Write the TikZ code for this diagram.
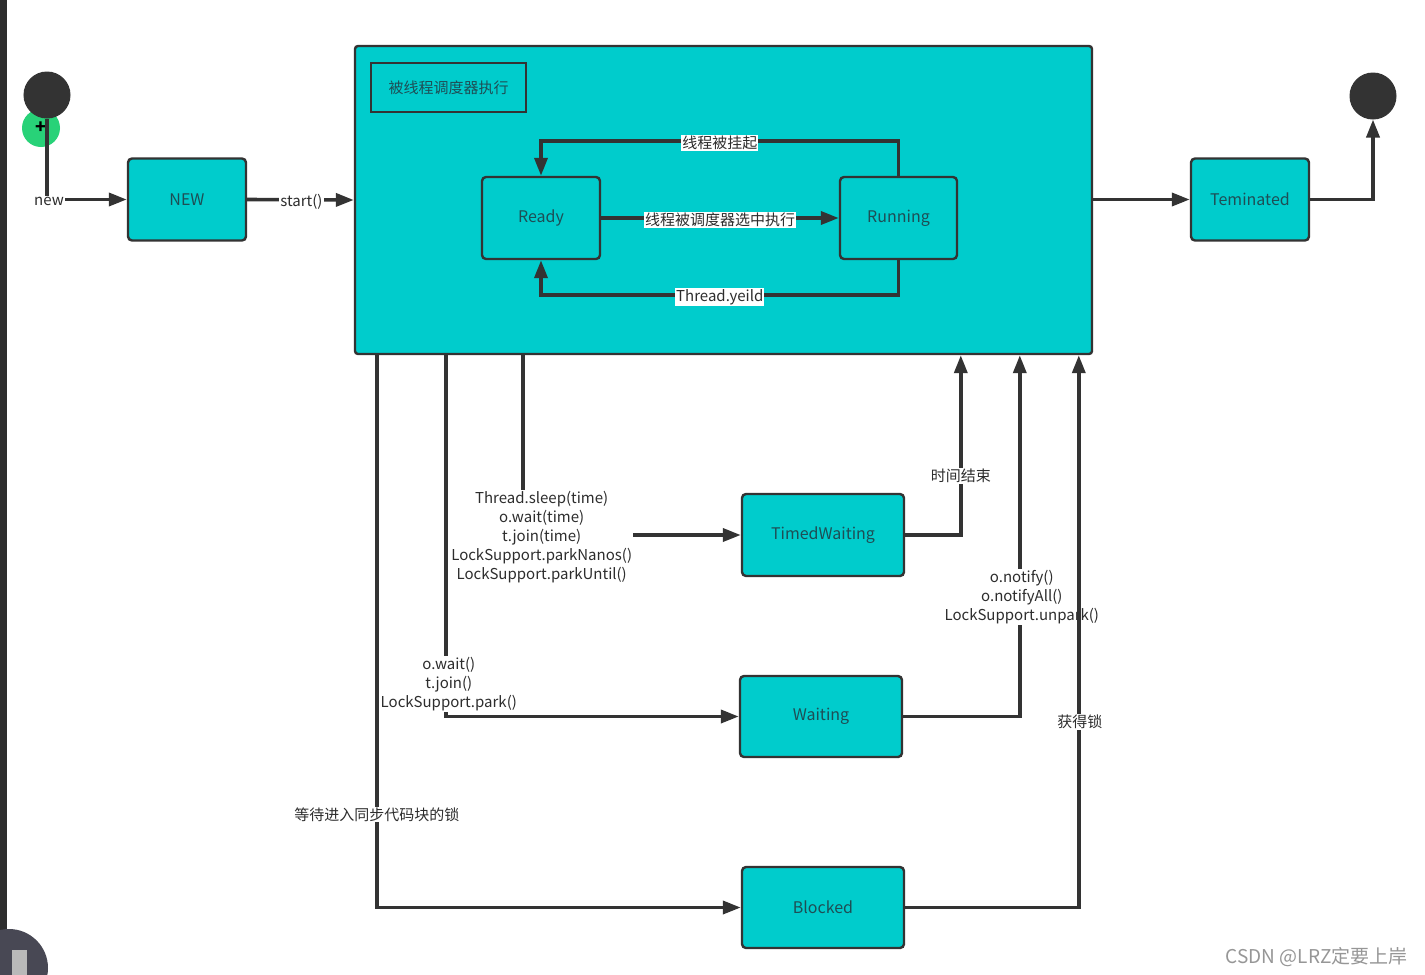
\documentclass[tikz,border=0pt]{standalone}
\usepackage{fontspec}
\setmainfont{Noto Sans CJK SC}
\usetikzlibrary{arrows.meta,calc}
\definecolor{boxfill}{RGB}{0,204,204}
\definecolor{linec}{RGB}{51,51,51}
\definecolor{txtc}{RGB}{30,78,85}
\definecolor{labc}{RGB}{45,45,45}
\definecolor{greenc}{RGB}{40,210,120}
\definecolor{wmc}{RGB}{150,150,150}
\definecolor{cornerc}{RGB}{72,72,84}
\begin{document}
\begin{tikzpicture}[x=1pt,y=-1pt,
  stbox/.style={draw=linec, line width=2.4pt, fill=boxfill, rounded corners=4pt,
    text=txtc, font=\fontsize{16}{19}\selectfont, inner sep=0pt},
  conn/.style={draw=linec, line width=3.6pt, -{Triangle[length=18pt,width=13pt]}},
  lab/.style={fill=white, inner sep=1pt, text=labc, font=\fontsize{15}{19}\selectfont, align=center, yshift=-2pt},
  dot/.style={circle, fill=linec, draw=linec, line width=1pt, minimum size=46pt, inner sep=0pt}]
\useasboundingbox (0,0) rectangle (1425,975);
\fill[white] (0,0) rectangle (1425,975);
% screen artefacts
\fill[black!82] (0,0) rectangle (7,975);
\begin{scope}
\clip (0,0) rectangle (1425,975);
\fill[cornerc] (9,968) circle (39);
\fill[gray!55] (12,950) rectangle (27,975);
\end{scope}
\fill[greenc] (41,128) circle (19);
\node[font=\fontsize{18}{18}\selectfont\bfseries] at (41,128) {+};

% nodes
\node[dot] (start) at (47,95) {};
\node[dot] (endc) at (1373,96) {};
\node[stbox, minimum width=118pt, minimum height=82pt] (new) at (187,199.5) {\raisebox{-1.5pt}{NEW}};
\node[stbox, rounded corners=3pt, minimum width=737pt, minimum height=308pt] (main) at (723.5,200) {};
\node[draw=linec, line width=2.2pt, minimum width=155pt, minimum height=49pt, text=txtc,
  font=\fontsize{15}{19}\selectfont, inner sep=0pt] (sched) at (448.5,87.5) {被线程调度器执行};
\node[stbox, minimum width=118pt, minimum height=82pt] (ready) at (541,218) {\raisebox{-1.5pt}{Ready}};
\node[stbox, minimum width=117pt, minimum height=82pt] (run) at (898.5,218) {\raisebox{-1.5pt}{Running}};
\node[stbox, minimum width=118pt, minimum height=82pt] (term) at (1250,199.5) {\raisebox{-1.5pt}{Teminated}};
\node[stbox, minimum width=162pt, minimum height=82pt] (tw) at (823,535) {\raisebox{-1.5pt}{TimedWaiting}};
\node[stbox, minimum width=162pt, minimum height=81pt] (wait) at (821,716.5) {\raisebox{-1.5pt}{Waiting}};
\node[stbox, minimum width=162pt, minimum height=81pt] (blk) at (823,907.5) {\raisebox{-1.5pt}{Blocked}};

% connectors
\draw[conn] (start.south) |- (new.west) node[lab, pos=0.5, xshift=2pt] {new};
\draw[conn] (new.east) -- (main.west) node[lab, midway, xshift=1pt] {start()};
\draw[conn] (run.north) -- ++(0,-35) coordinate (t1) -- (t1 -| ready.north) node[lab, midway] {线程被挂起} -- (ready.north);
\draw[conn] (ready.east) -- (run.west) node[lab, midway] {线程被调度器选中执行};
\draw[conn] (run.south) -- ++(0,35) coordinate (t2) -- (t2 -| ready.south) node[lab, midway] {Thread.yeild} -- (ready.south);
\draw[conn] (main.east |- term.west) -- (term.west);
\draw[conn] (term.east) -| (endc.south);

\draw[conn] ($(main.south west)+(23,0)$) |- (blk.west)
  node[lab, pos=0.414] {等待进入同步代码块的锁};
\draw[conn] ($(main.south west)+(92,0)$) |- (wait.west)
  node[lab, pos=0.452, xshift=3pt] {o.wait()\\t.join()\\LockSupport.park()};
\draw[conn] ($(main.south west)+(169,0)$) |- (tw.west)
  node[lab, pos=0.541, xshift=1pt] {Thread.sleep(time)\\o.wait(time)\\t.join(time)\\LockSupport.parkNanos()\\LockSupport.parkUntil()};

\draw[conn] (tw.east) -| ($(main.south west)+(607,0)$) node[lab, pos=0.67] {时间结束};
\draw[conn] (wait.east) -| ($(main.south west)+(666,0)$) node[lab, pos=0.668, xshift=2pt] {o.notify()\\o.notifyAll()\\LockSupport.unpark()};
\draw[conn] (blk.east) -| ($(main.south west)+(725,0)$) node[lab, pos=0.67, xshift=1pt] {获得锁};

\node[text=wmc, font=\fontsize{19}{19}\selectfont, anchor=east] (wm) at (1411,957) {CSDN @LRZ定要上岸};
\end{tikzpicture}
\end{document}
